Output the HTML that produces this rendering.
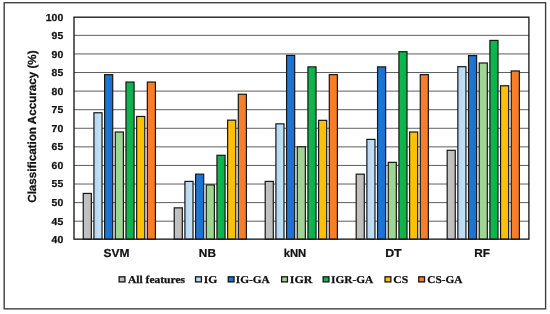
<!DOCTYPE html>
<html lang="en"><head><meta charset="utf-8"><title>Classification Accuracy</title>
<style>html,body{margin:0;padding:0;background:#fff;}body{width:550px;height:314px;overflow:hidden;}svg{display:block;}text{text-rendering:geometricPrecision;}
.sans{font-family:"Liberation Sans",Arial,sans-serif;font-weight:bold;fill:#111;}
.serif{font-family:"Liberation Serif","Times New Roman",serif;font-weight:bold;fill:#111;}
</style></head><body>
<svg width="550" height="314" viewBox="0 0 550 314">
<defs>
<linearGradient id="g0" x1="0" y1="0" x2="1" y2="0"><stop offset="0" stop-color="#c3c3c3"/><stop offset="1" stop-color="#bdbdbd"/></linearGradient>
<linearGradient id="g1" x1="0" y1="0" x2="1" y2="0"><stop offset="0" stop-color="#b3d6f0"/><stop offset="1" stop-color="#c6e2f6"/></linearGradient>
<linearGradient id="g2" x1="0" y1="0" x2="1" y2="0"><stop offset="0" stop-color="#2078d6"/><stop offset="1" stop-color="#1b70cc"/></linearGradient>
<linearGradient id="g3" x1="0" y1="0" x2="1" y2="0"><stop offset="0" stop-color="#9bd78e"/><stop offset="1" stop-color="#a0d694"/></linearGradient>
<linearGradient id="g4" x1="0" y1="0" x2="1" y2="0"><stop offset="0" stop-color="#10b84f"/><stop offset="1" stop-color="#0cb04a"/></linearGradient>
<linearGradient id="g5" x1="0" y1="0" x2="1" y2="0"><stop offset="0" stop-color="#ffc10a"/><stop offset="1" stop-color="#ffbf00"/></linearGradient>
<linearGradient id="g6" x1="0" y1="0" x2="1" y2="0"><stop offset="0" stop-color="#fb7f2a"/><stop offset="1" stop-color="#f87c25"/></linearGradient>
</defs>
<rect x="0" y="0" width="550" height="314" fill="#ffffff"/>
<rect x="4.2" y="2.7" width="541.4" height="306.15" fill="#ffffff" stroke="#404040" stroke-width="1.4"/>
<line x1="74.0" y1="35.35" x2="528.9" y2="35.35" stroke="#5e5e5e" stroke-width="1"/>
<line x1="74.0" y1="53.94" x2="528.9" y2="53.94" stroke="#5e5e5e" stroke-width="1"/>
<line x1="74.0" y1="72.52" x2="528.9" y2="72.52" stroke="#5e5e5e" stroke-width="1"/>
<line x1="74.0" y1="91.11" x2="528.9" y2="91.11" stroke="#5e5e5e" stroke-width="1"/>
<line x1="74.0" y1="109.69" x2="528.9" y2="109.69" stroke="#5e5e5e" stroke-width="1"/>
<line x1="74.0" y1="128.28" x2="528.9" y2="128.28" stroke="#5e5e5e" stroke-width="1"/>
<line x1="74.0" y1="146.86" x2="528.9" y2="146.86" stroke="#5e5e5e" stroke-width="1"/>
<line x1="74.0" y1="165.44" x2="528.9" y2="165.44" stroke="#5e5e5e" stroke-width="1"/>
<line x1="74.0" y1="184.03" x2="528.9" y2="184.03" stroke="#5e5e5e" stroke-width="1"/>
<line x1="74.0" y1="202.62" x2="528.9" y2="202.62" stroke="#5e5e5e" stroke-width="1"/>
<line x1="74.0" y1="221.20" x2="528.9" y2="221.20" stroke="#5e5e5e" stroke-width="1"/>
<rect x="83.25" y="193.42" width="8.10" height="45.88" fill="url(#g0)" stroke="#161616" stroke-width="1.2"/>
<rect x="93.93" y="112.76" width="8.10" height="126.54" fill="url(#g1)" stroke="#161616" stroke-width="1.2"/>
<rect x="104.61" y="74.65" width="8.10" height="164.65" fill="url(#g2)" stroke="#161616" stroke-width="1.2"/>
<rect x="115.29" y="132.00" width="8.10" height="107.30" fill="url(#g3)" stroke="#161616" stroke-width="1.2"/>
<rect x="125.97" y="82.05" width="8.10" height="157.25" fill="url(#g4)" stroke="#161616" stroke-width="1.2"/>
<rect x="136.65" y="116.46" width="8.10" height="122.84" fill="url(#g5)" stroke="#161616" stroke-width="1.2"/>
<rect x="147.33" y="82.05" width="8.10" height="157.25" fill="url(#g6)" stroke="#161616" stroke-width="1.2"/>
<rect x="174.23" y="207.85" width="8.10" height="31.45" fill="url(#g0)" stroke="#161616" stroke-width="1.2"/>
<rect x="184.91" y="181.40" width="8.10" height="57.91" fill="url(#g1)" stroke="#161616" stroke-width="1.2"/>
<rect x="195.59" y="174.18" width="8.10" height="65.12" fill="url(#g2)" stroke="#161616" stroke-width="1.2"/>
<rect x="206.27" y="184.91" width="8.10" height="54.39" fill="url(#g3)" stroke="#161616" stroke-width="1.2"/>
<rect x="216.95" y="155.31" width="8.10" height="83.99" fill="url(#g4)" stroke="#161616" stroke-width="1.2"/>
<rect x="227.63" y="120.16" width="8.10" height="119.14" fill="url(#g5)" stroke="#161616" stroke-width="1.2"/>
<rect x="238.31" y="94.26" width="8.10" height="145.04" fill="url(#g6)" stroke="#161616" stroke-width="1.2"/>
<rect x="265.21" y="181.40" width="8.10" height="57.91" fill="url(#g0)" stroke="#161616" stroke-width="1.2"/>
<rect x="275.89" y="123.86" width="8.10" height="115.44" fill="url(#g1)" stroke="#161616" stroke-width="1.2"/>
<rect x="286.57" y="55.41" width="8.10" height="183.89" fill="url(#g2)" stroke="#161616" stroke-width="1.2"/>
<rect x="297.25" y="146.80" width="8.10" height="92.50" fill="url(#g3)" stroke="#161616" stroke-width="1.2"/>
<rect x="307.93" y="66.88" width="8.10" height="172.42" fill="url(#g4)" stroke="#161616" stroke-width="1.2"/>
<rect x="318.61" y="120.34" width="8.10" height="118.96" fill="url(#g5)" stroke="#161616" stroke-width="1.2"/>
<rect x="329.29" y="74.65" width="8.10" height="164.65" fill="url(#g6)" stroke="#161616" stroke-width="1.2"/>
<rect x="356.19" y="174.18" width="8.10" height="65.12" fill="url(#g0)" stroke="#161616" stroke-width="1.2"/>
<rect x="366.87" y="139.40" width="8.10" height="99.90" fill="url(#g1)" stroke="#161616" stroke-width="1.2"/>
<rect x="377.55" y="66.88" width="8.10" height="172.42" fill="url(#g2)" stroke="#161616" stroke-width="1.2"/>
<rect x="388.23" y="162.34" width="8.10" height="76.96" fill="url(#g3)" stroke="#161616" stroke-width="1.2"/>
<rect x="398.91" y="51.71" width="8.10" height="187.59" fill="url(#g4)" stroke="#161616" stroke-width="1.2"/>
<rect x="409.59" y="132.00" width="8.10" height="107.30" fill="url(#g5)" stroke="#161616" stroke-width="1.2"/>
<rect x="420.27" y="74.65" width="8.10" height="164.65" fill="url(#g6)" stroke="#161616" stroke-width="1.2"/>
<rect x="447.17" y="150.32" width="8.10" height="88.98" fill="url(#g0)" stroke="#161616" stroke-width="1.2"/>
<rect x="457.85" y="66.69" width="8.10" height="172.61" fill="url(#g1)" stroke="#161616" stroke-width="1.2"/>
<rect x="468.53" y="55.59" width="8.10" height="183.71" fill="url(#g2)" stroke="#161616" stroke-width="1.2"/>
<rect x="479.21" y="62.99" width="8.10" height="176.31" fill="url(#g3)" stroke="#161616" stroke-width="1.2"/>
<rect x="489.89" y="40.42" width="8.10" height="198.88" fill="url(#g4)" stroke="#161616" stroke-width="1.2"/>
<rect x="500.57" y="85.75" width="8.10" height="153.55" fill="url(#g5)" stroke="#161616" stroke-width="1.2"/>
<rect x="511.25" y="70.95" width="8.10" height="168.35" fill="url(#g6)" stroke="#161616" stroke-width="1.2"/>
<rect x="74.0" y="17.2" width="454.90" height="221.95" fill="none" stroke="#222" stroke-width="1.4"/>
<text class="sans" x="63.2" y="21" font-size="10.1" stroke="#111" stroke-width="0.25" text-anchor="end" textLength="17.40" lengthAdjust="spacingAndGlyphs">100</text>
<text class="sans" x="63.2" y="39" font-size="10.1" stroke="#111" stroke-width="0.25" text-anchor="end" textLength="11.60" lengthAdjust="spacingAndGlyphs">95</text>
<text class="sans" x="63.2" y="58" font-size="10.1" stroke="#111" stroke-width="0.25" text-anchor="end" textLength="11.60" lengthAdjust="spacingAndGlyphs">90</text>
<text class="sans" x="63.2" y="76" font-size="10.1" stroke="#111" stroke-width="0.25" text-anchor="end" textLength="11.60" lengthAdjust="spacingAndGlyphs">85</text>
<text class="sans" x="63.2" y="95" font-size="10.1" stroke="#111" stroke-width="0.25" text-anchor="end" textLength="11.60" lengthAdjust="spacingAndGlyphs">80</text>
<text class="sans" x="63.2" y="113" font-size="10.1" stroke="#111" stroke-width="0.25" text-anchor="end" textLength="11.60" lengthAdjust="spacingAndGlyphs">75</text>
<text class="sans" x="63.2" y="132" font-size="10.1" stroke="#111" stroke-width="0.25" text-anchor="end" textLength="11.60" lengthAdjust="spacingAndGlyphs">70</text>
<text class="sans" x="63.2" y="150" font-size="10.1" stroke="#111" stroke-width="0.25" text-anchor="end" textLength="11.60" lengthAdjust="spacingAndGlyphs">65</text>
<text class="sans" x="63.2" y="169" font-size="10.1" stroke="#111" stroke-width="0.25" text-anchor="end" textLength="11.60" lengthAdjust="spacingAndGlyphs">60</text>
<text class="sans" x="63.2" y="187" font-size="10.1" stroke="#111" stroke-width="0.25" text-anchor="end" textLength="11.60" lengthAdjust="spacingAndGlyphs">55</text>
<text class="sans" x="63.2" y="206" font-size="10.1" stroke="#111" stroke-width="0.25" text-anchor="end" textLength="11.60" lengthAdjust="spacingAndGlyphs">50</text>
<text class="sans" x="63.2" y="225" font-size="10.1" stroke="#111" stroke-width="0.25" text-anchor="end" textLength="11.60" lengthAdjust="spacingAndGlyphs">45</text>
<text class="sans" x="63.2" y="243" font-size="10.1" stroke="#111" stroke-width="0.25" text-anchor="end" textLength="11.60" lengthAdjust="spacingAndGlyphs">40</text>
<text class="sans" transform="translate(36.2,126.6) rotate(-90)" stroke="#111" stroke-width="0.25" font-size="11.7" text-anchor="middle" textLength="152.4" lengthAdjust="spacingAndGlyphs">Classification Accuracy (%)</text>
<text class="sans" x="116.4" y="256.5" font-size="11.5" stroke="#111" stroke-width="0.2" text-anchor="middle" textLength="26.0" lengthAdjust="spacingAndGlyphs">SVM</text>
<text class="sans" x="207.4" y="256.5" font-size="11.5" stroke="#111" stroke-width="0.2" text-anchor="middle" textLength="17.1" lengthAdjust="spacingAndGlyphs">NB</text>
<text class="sans" x="295.0" y="256.5" font-size="11.5" stroke="#111" stroke-width="0.2" text-anchor="middle" textLength="22.6" lengthAdjust="spacingAndGlyphs">kNN</text>
<text class="sans" x="393.4" y="256.5" font-size="11.5" stroke="#111" stroke-width="0.2" text-anchor="middle" textLength="16.5" lengthAdjust="spacingAndGlyphs">DT</text>
<text class="sans" x="482.1" y="256.5" font-size="11.5" stroke="#111" stroke-width="0.2" text-anchor="middle" textLength="15.7" lengthAdjust="spacingAndGlyphs">RF</text>
<rect x="118.50" y="276.15" width="7.1" height="6.4" fill="#141414"/>
<rect x="119.80" y="277.45" width="4.5" height="3.8" fill="url(#g0)"/>
<text class="serif" x="128.00" y="283.1" font-size="10.5" stroke="#111" stroke-width="0.25" textLength="57.00" lengthAdjust="spacingAndGlyphs">All features</text>
<rect x="194.90" y="276.15" width="7.1" height="6.4" fill="#141414"/>
<rect x="196.20" y="277.45" width="4.5" height="3.8" fill="url(#g1)"/>
<text class="serif" x="203.80" y="283.1" font-size="10.5" stroke="#111" stroke-width="0.25" textLength="13.60" lengthAdjust="spacingAndGlyphs">IG</text>
<rect x="227.60" y="276.15" width="7.1" height="6.4" fill="#141414"/>
<rect x="228.90" y="277.45" width="4.5" height="3.8" fill="url(#g2)"/>
<text class="serif" x="235.80" y="283.1" font-size="10.5" stroke="#111" stroke-width="0.25" textLength="34.00" lengthAdjust="spacingAndGlyphs">IG-GA</text>
<rect x="281.00" y="276.15" width="7.1" height="6.4" fill="#141414"/>
<rect x="282.30" y="277.45" width="4.5" height="3.8" fill="url(#g3)"/>
<text class="serif" x="289.80" y="283.1" font-size="10.5" stroke="#111" stroke-width="0.25" textLength="22.60" lengthAdjust="spacingAndGlyphs">IGR</text>
<rect x="322.50" y="276.15" width="7.1" height="6.4" fill="#141414"/>
<rect x="323.80" y="277.45" width="4.5" height="3.8" fill="url(#g4)"/>
<text class="serif" x="331.00" y="283.1" font-size="10.5" stroke="#111" stroke-width="0.25" textLength="42.20" lengthAdjust="spacingAndGlyphs">IGR-GA</text>
<rect x="384.40" y="276.15" width="7.1" height="6.4" fill="#141414"/>
<rect x="385.70" y="277.45" width="4.5" height="3.8" fill="url(#g5)"/>
<text class="serif" x="393.30" y="283.1" font-size="10.5" stroke="#111" stroke-width="0.25" textLength="14.90" lengthAdjust="spacingAndGlyphs">CS</text>
<rect x="418.10" y="276.15" width="7.1" height="6.4" fill="#141414"/>
<rect x="419.40" y="277.45" width="4.5" height="3.8" fill="url(#g6)"/>
<text class="serif" x="427.30" y="283.1" font-size="10.5" stroke="#111" stroke-width="0.25" textLength="35.00" lengthAdjust="spacingAndGlyphs">CS-GA</text>
</svg></body></html>
